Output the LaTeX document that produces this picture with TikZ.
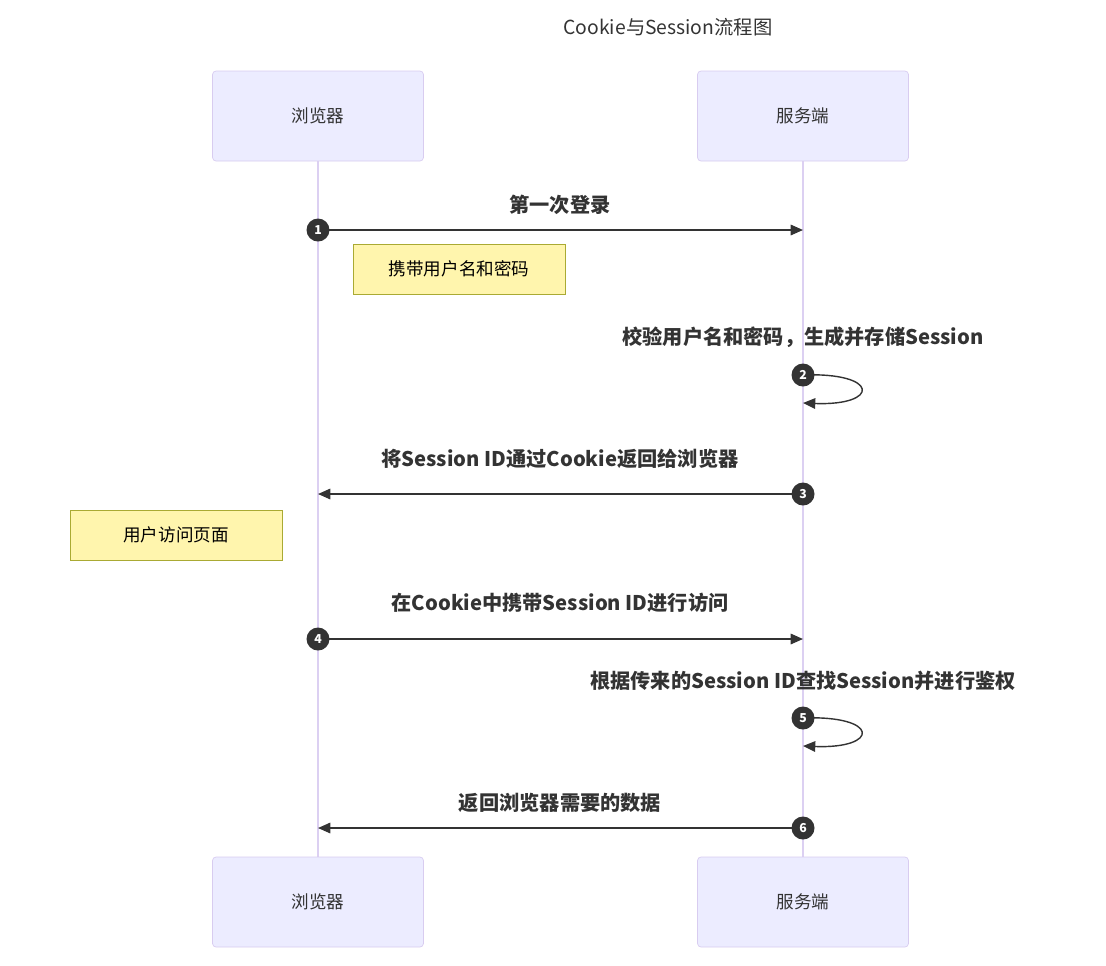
\documentclass[tikz,border=0pt]{standalone}
\usepackage{fontspec}
\setmainfont{Noto Sans CJK SC}
\usetikzlibrary{arrows.meta}
\definecolor{actfill}{HTML}{ECECFF}
\definecolor{actline}{HTML}{D8CCF0}
\definecolor{life}{HTML}{DCD0F2}
\definecolor{notefill}{HTML}{FFF5AD}
\definecolor{noteline}{HTML}{AAAA33}
\definecolor{ink}{HTML}{333333}
\begin{document}
\begin{tikzpicture}[x=0.02cm,y=-0.02cm,
  actor/.style={draw=actline,fill=actfill,rounded corners=2pt,minimum width=4.22cm,minimum height=1.8cm,font=\fontsize{10}{12}\selectfont,text=ink},
  note/.style={draw=noteline,fill=notefill,minimum width=4.24cm,minimum height=1cm,font=\fontsize{10}{12}\selectfont},
  msg/.style={font=\bfseries\fontsize{11.5}{13}\selectfont,text=ink},
  num/.style={circle,fill=ink,text=white,inner sep=0pt,minimum size=0.46cm,font=\bfseries\fontsize{7}{8}\selectfont},
  arr/.style={draw=ink,line width=0.8pt,-{Triangle[length=7pt,width=6pt]}}]
\useasboundingbox (0,0) rectangle (1106,965);
\node[font=\fontsize{11}{13}\selectfont,text=ink] (title) at (668,27) {Cookie与Session流程图};
\draw[life,line width=1.5pt] (318,161) -- (318,857);
\draw[life,line width=1.5pt] (803,161) -- (803,857);
\node[actor] (b1) at (318,116) {浏览器};
\node[actor] (s1) at (803,116) {服务端};
\node[actor] (b2) at (318,902) {浏览器};
\node[actor] (s2) at (803,902) {服务端};
% 1
\coordinate (m1a) at (318,230); \coordinate (m1b) at (803,230);
\draw[arr] (m1a) -- (m1b);
\node[num] (n1) at (m1a) {1};
\node[msg] (l1) at (560,205) {第一次登录};
\node[note] (note1) at (459,269) {携带用户名和密码};
% 2
\node[msg] (l2) at (803,337) {校验用户名和密码，生成并存储Session};
\coordinate (m2a) at (803,375); \coordinate (m2b) at (803,403);
\draw[arr] (m2a) .. controls (880,372) and (880,406) .. (m2b);
\node[num] (n2) at (m2a) {2};
% 3
\coordinate (m3a) at (803,494); \coordinate (m3b) at (318,494);
\draw[arr] (m3a) -- (m3b);
\node[num] (n3) at (m3a) {3};
\node[msg] (l3) at (560,459) {将Session ID通过Cookie返回给浏览器};
\node[note] (note2) at (176,535) {用户访问页面};
% 4
\coordinate (m4a) at (318,639); \coordinate (m4b) at (803,639);
\draw[arr] (m4a) -- (m4b);
\node[num] (n4) at (m4a) {4};
\node[msg] (l4) at (560,603) {在Cookie中携带Session ID进行访问};
% 5
\node[msg] (l5) at (803,681) {根据传来的Session ID查找Session并进行鉴权};
\coordinate (m5a) at (803,718); \coordinate (m5b) at (803,746);
\draw[arr] (m5a) .. controls (880,715) and (880,749) .. (m5b);
\node[num] (n5) at (m5a) {5};
% 6
\coordinate (m6a) at (803,828); \coordinate (m6b) at (318,828);
\draw[arr] (m6a) -- (m6b);
\node[num] (n6) at (m6a) {6};
\node[msg] (l6) at (560,803) {返回浏览器需要的数据};
\end{tikzpicture}
\end{document}
